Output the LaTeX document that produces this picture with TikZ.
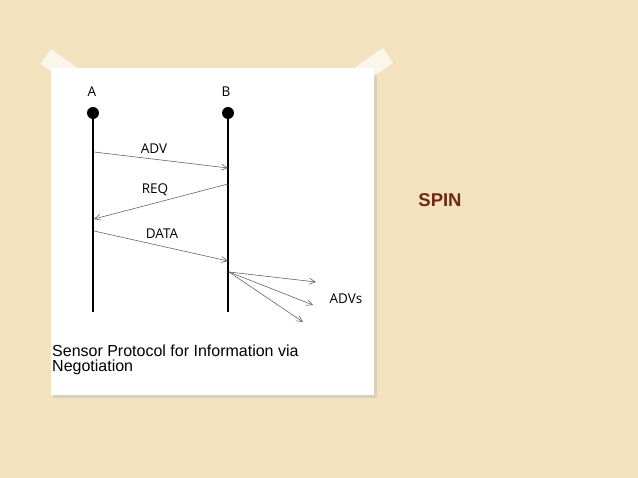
\documentclass[tikz,border=0pt]{standalone}
\usetikzlibrary{arrows.meta}
\usepackage{fontspec}
\setmainfont{Liberation Sans}
\newfontfamily\lab{Open Sans}
\begin{document}
\begin{tikzpicture}[x=1pt,y=-1pt,
  msg/.style={draw=gray!80!black,line width=0.6pt,-{Straight Barb[length=6pt,width=6pt]}},
  life/.style={line width=2.2pt},
  lbl/.style={font=\lab\fontsize{13.5}{15}\selectfont,inner sep=0}]
\useasboundingbox (0,0) rectangle (638,478);
\fill[fill={rgb,255:red,242;green,227;blue,190}] (0,0) rectangle (638,478);
\fill[black!25,opacity=0.5] (53,71) rectangle (377,398);
\fill[white] (51,68) rectangle (374,395);
\fill[white,opacity=0.7,rotate around={-35:(62,68)}] (42,59) rectangle (84,77);
\fill[white,opacity=0.7,rotate around={35:(370,68)}] (348,59) rectangle (392,77);
\node[lbl] (A) at (92,92) {A};
\node[lbl] (B) at (226,92) {B};
\fill (93,113) circle (6);
\fill (228,113) circle (6);
\coordinate (a0) at (93,113); \coordinate (a1) at (93,312);
\coordinate (b0) at (228,113); \coordinate (b1) at (228,312);
\draw[life] (a0) -- (a1);
\draw[life] (b0) -- (b1);
\coordinate (p1) at (94,152); \coordinate (q1) at (228,168);
\coordinate (p2) at (228,184); \coordinate (q2) at (94,219);
\coordinate (p3) at (94,231); \coordinate (q3) at (228,261);
\coordinate (s) at (229,272);
\coordinate (t1) at (316,282); \coordinate (t2) at (313,305); \coordinate (t3) at (303,322);
\draw[msg] (p1) -- (q1);
\draw[msg] (p2) -- (q2);
\draw[msg] (p3) -- (q3);
\draw[msg] (s) -- (t1);
\draw[msg] (s) -- (t2);
\draw[msg] (s) -- (t3);
\node[lbl] (adv) at (154,149) {ADV};
\node[lbl] (req) at (155,190) {REQ};
\node[lbl] (data) at (162,234) {DATA};
\node[lbl] (advs) at (346,299) {ADVs};
\node[anchor=north west,align=left,inner sep=0,font=\fontsize{16}{15}\selectfont] (cap) at (52,345) {Sensor Protocol for Information via\\Negotiation};
\node[font=\bfseries\fontsize{18.5}{20}\selectfont,text={rgb,255:red,110;green,40;blue,20}] (spin) at (440,200) {SPIN};
\end{tikzpicture}
\end{document}
